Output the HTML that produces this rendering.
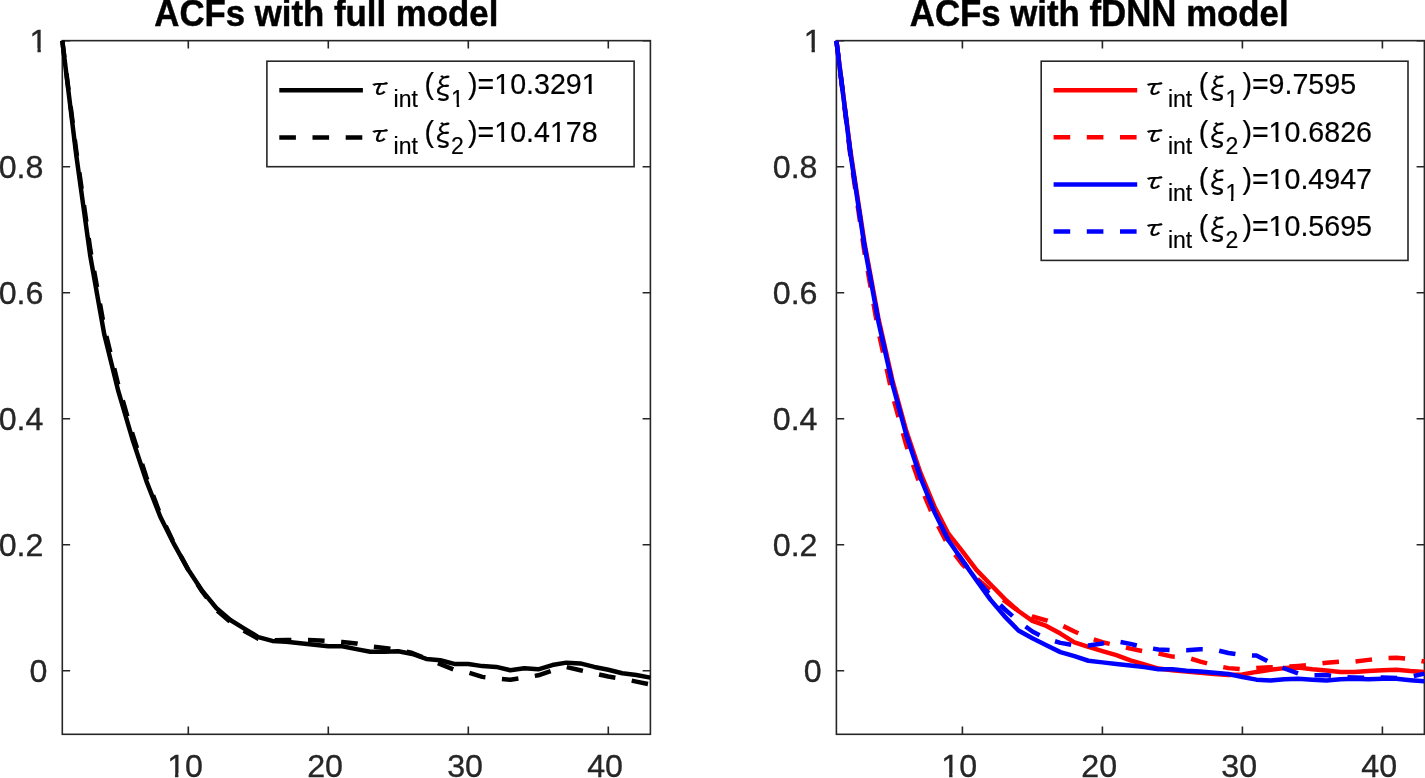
<!DOCTYPE html>
<html lang="en"><head><meta charset="utf-8"><title>ACFs</title>
<style>
html,body{margin:0;padding:0;background:#fff;overflow:hidden}
body{width:1425px;height:778px}
.tau{font-family:"IPAGothic","DejaVu Sans",sans-serif;font-size:26.5px;fill:#000;stroke:#000;stroke-width:0.25px}
.xi{font-family:"IPAGothic","DejaVu Sans",sans-serif;font-size:29.2px;fill:#000;stroke:#000;stroke-width:0.15px}
</style></head><body>
<svg width="1425" height="778" viewBox="0 0 1425 778" style="display:block">
<rect width="1425" height="778" fill="#fff"/>
<clipPath id="cL"><rect x="59.3" y="39.85" width="594.1" height="695.25"/></clipPath>
<rect x="62.3" y="40.65" width="588.1" height="693.65" fill="none" stroke="#262626" stroke-width="1.6"/>
<path d="M188.30,734.3v-7.8M188.30,40.65v7.8M328.30,734.3v-7.8M328.30,40.65v7.8M468.30,734.3v-7.8M468.30,40.65v7.8M608.30,734.3v-7.8M608.30,40.65v7.8M62.3,670.70h7.8M650.4,670.70h-7.8M62.3,544.70h7.8M650.4,544.70h-7.8M62.3,418.70h7.8M650.4,418.70h-7.8M62.3,292.70h7.8M650.4,292.70h-7.8M62.3,166.70h7.8M650.4,166.70h-7.8M62.3,40.70h7.8M650.4,40.70h-7.8" stroke="#262626" stroke-width="1.6" fill="none"/>
<g clip-path="url(#cL)">
<polyline points="62.30,40.70 76.30,155.42 90.30,256.16 104.30,334.53 118.30,391.17 132.30,438.67 146.30,480.82 160.30,516.79 174.30,544.70 188.30,569.84 202.30,590.94 216.30,607.95 230.30,619.99 244.30,628.62 258.30,637.06 272.30,640.90 286.30,641.72 300.30,643.23 314.30,644.81 328.30,646.32 342.30,646.32 356.30,649.09 370.30,651.80 384.30,651.80 398.30,651.30 412.30,654.00 426.30,658.98 440.30,660.28 454.30,663.91 468.30,663.91 482.30,666.12 496.30,666.92 510.30,670.23 524.30,668.18 538.30,669.28 552.30,665.03 566.30,662.65 580.30,663.44 594.30,666.92 608.30,669.75 622.30,673.22 636.30,674.97 650.30,677.63" fill="none" stroke="#000" stroke-width="4.5" stroke-linejoin="round"/>
<polyline points="62.30,40.70 76.30,151.28 90.30,249.47 104.30,327.74 118.30,384.95 132.30,433.51 146.30,476.98 160.30,514.62 174.30,543.94 188.30,569.84 202.30,591.74 216.30,609.81 230.30,621.97 244.30,631.07 258.30,638.70 272.30,640.46 286.30,639.96 300.30,639.77 314.30,640.15 328.30,641.09 342.30,642.04 356.30,643.55 370.30,646.45 384.30,648.02 398.30,649.91 412.30,653.06 426.30,658.73 440.30,664.21 454.30,669.75 468.30,672.44 482.30,676.87 496.30,678.45 510.30,679.71 524.30,677.63 538.30,675.30 552.30,670.54 566.30,667.05 580.30,670.23 594.30,673.41 608.30,676.56 622.30,678.76 636.30,681.60 650.30,684.43" fill="none" stroke="#000" stroke-width="4.5" stroke-linejoin="round" stroke-dasharray="16.6 16.6" stroke-dashoffset="0"/>
</g>
<g font-family="Liberation Sans, Arial, Helvetica, sans-serif" font-size="32.2" fill="#262626" stroke="#262626" stroke-width="0.35">
<text x="185.10" y="777.0" text-anchor="middle">10</text>
<text x="325.10" y="777.0" text-anchor="middle">20</text>
<text x="465.10" y="777.0" text-anchor="middle">30</text>
<text x="605.10" y="777.0" text-anchor="middle">40</text>
<text x="47.50" y="682.10" text-anchor="end">0</text>
<text x="43.40" y="556.10" text-anchor="end">0.2</text>
<text x="43.40" y="430.10" text-anchor="end">0.4</text>
<text x="43.40" y="304.10" text-anchor="end">0.6</text>
<text x="43.40" y="178.10" text-anchor="end">0.8</text>
<text x="47.50" y="52.10" text-anchor="end">1</text>
</g>
<text transform="translate(326.3,26.1) scale(1,1.045)" text-anchor="middle" font-family="Liberation Sans, Arial, Helvetica, sans-serif" font-weight="bold" font-size="34.8" fill="#000" stroke="#000" stroke-width="0.45">ACFs with full model</text>
<clipPath id="cR"><rect x="833.4" y="39.85" width="594.0000000000001" height="695.25"/></clipPath>
<rect x="836.4" y="40.65" width="588.0000000000001" height="693.65" fill="none" stroke="#262626" stroke-width="1.6"/>
<path d="M962.40,734.3v-7.8M962.40,40.65v7.8M1102.40,734.3v-7.8M1102.40,40.65v7.8M1242.40,734.3v-7.8M1242.40,40.65v7.8M1382.40,734.3v-7.8M1382.40,40.65v7.8M836.4,670.70h7.8M1424.4,670.70h-7.8M836.4,544.70h7.8M1424.4,544.70h-7.8M836.4,418.70h7.8M1424.4,418.70h-7.8M836.4,292.70h7.8M1424.4,292.70h-7.8M836.4,166.70h7.8M1424.4,166.70h-7.8M836.4,40.70h7.8M1424.4,40.70h-7.8" stroke="#262626" stroke-width="1.6" fill="none"/>
<g clip-path="url(#cR)">
<polyline points="836.40,40.70 850.40,150.69 864.40,242.33 878.40,318.18 892.40,380.31 906.40,431.25 920.40,472.69 934.40,506.48 948.40,533.74 962.40,551.32 976.40,569.84 990.40,584.20 1004.40,598.63 1018.40,610.98 1032.40,620.80 1046.40,625.97 1060.40,633.59 1074.40,642.41 1088.40,646.95 1102.40,651.04 1116.40,655.20 1130.40,660.31 1144.40,664.40 1158.40,668.56 1172.40,670.20 1186.40,671.58 1200.40,672.78 1214.40,673.98 1228.40,674.98 1242.40,674.48 1256.40,671.90 1270.40,669.82 1284.40,668.12 1298.40,667.61 1312.40,669.31 1326.40,670.51 1340.40,671.90 1354.40,671.90 1368.40,671.02 1382.40,670.20 1396.40,669.82 1410.40,671.02 1424.40,671.90" fill="none" stroke="#f00" stroke-width="4.5" stroke-linejoin="round"/>
<polyline points="836.40,40.70 850.40,155.86 864.40,252.10 878.40,331.44 892.40,394.93 906.40,445.62 920.40,486.03 934.40,519.03 948.40,545.74 962.40,564.32 976.40,578.09 990.40,590.38 1004.40,600.77 1018.40,610.98 1032.40,616.52 1046.40,620.30 1060.40,624.71 1074.40,631.51 1088.40,637.69 1102.40,642.22 1116.40,645.31 1130.40,648.59 1144.40,651.49 1158.40,653.50 1172.40,656.59 1186.40,657.28 1200.40,661.57 1214.40,665.35 1228.40,668.12 1242.40,669.31 1256.40,667.93 1270.40,667.24 1284.40,666.92 1298.40,665.91 1312.40,664.65 1326.40,662.76 1340.40,661.57 1354.40,661.57 1368.40,659.86 1382.40,658.10 1396.40,657.66 1410.40,658.98 1424.40,661.57" fill="none" stroke="#f00" stroke-width="4.5" stroke-linejoin="round" stroke-dasharray="16.6 16.6" stroke-dashoffset="0"/>
<polyline points="836.40,40.70 850.40,153.27 864.40,245.73 878.40,321.67 892.40,384.03 906.40,435.26 920.40,477.33 934.40,511.88 948.40,540.26 962.40,560.58 976.40,580.11 990.40,599.64 1004.40,616.08 1018.40,630.51 1032.40,638.32 1046.40,645.31 1060.40,652.12 1074.40,656.21 1088.40,660.75 1102.40,662.38 1116.40,664.02 1130.40,665.47 1144.40,667.11 1158.40,669.19 1172.40,669.19 1186.40,670.70 1200.40,671.58 1214.40,672.78 1228.40,673.98 1242.40,677.06 1256.40,679.65 1270.40,680.53 1284.40,679.14 1298.40,678.76 1312.40,679.65 1326.40,680.53 1340.40,679.14 1354.40,678.76 1368.40,679.27 1382.40,678.76 1396.40,678.76 1410.40,680.15 1424.40,681.35" fill="none" stroke="#00f" stroke-width="4.5" stroke-linejoin="round"/>
<polyline points="836.40,40.70 850.40,153.27 864.40,245.73 878.40,321.67 892.40,384.03 906.40,435.26 920.40,477.33 934.40,511.88 948.40,540.26 962.40,560.32 976.40,579.48 990.40,595.10 1004.40,608.96 1018.40,621.25 1032.40,631.51 1046.40,638.70 1060.40,642.85 1074.40,645.31 1088.40,645.50 1102.40,643.42 1116.40,641.22 1130.40,643.86 1144.40,647.39 1158.40,649.41 1172.40,650.04 1186.40,650.23 1200.40,649.22 1214.40,649.53 1228.40,653.00 1242.40,655.08 1256.40,655.58 1270.40,662.45 1284.40,668.50 1298.40,673.60 1312.40,675.36 1326.40,674.98 1340.40,677.06 1354.40,677.38 1368.40,677.95 1382.40,677.57 1396.40,677.95 1410.40,676.75 1424.40,673.60" fill="none" stroke="#00f" stroke-width="4.5" stroke-linejoin="round" stroke-dasharray="16.6 16.6" stroke-dashoffset="0"/>
</g>
<g font-family="Liberation Sans, Arial, Helvetica, sans-serif" font-size="32.2" fill="#262626" stroke="#262626" stroke-width="0.35">
<text x="959.20" y="777.0" text-anchor="middle">10</text>
<text x="1099.20" y="777.0" text-anchor="middle">20</text>
<text x="1239.20" y="777.0" text-anchor="middle">30</text>
<text x="1379.20" y="777.0" text-anchor="middle">40</text>
<text x="821.60" y="682.10" text-anchor="end">0</text>
<text x="817.50" y="556.10" text-anchor="end">0.2</text>
<text x="817.50" y="430.10" text-anchor="end">0.4</text>
<text x="817.50" y="304.10" text-anchor="end">0.6</text>
<text x="817.50" y="178.10" text-anchor="end">0.8</text>
<text x="821.60" y="52.10" text-anchor="end">1</text>
</g>
<text transform="translate(1099.2,26.1) scale(1,1.045)" text-anchor="middle" font-family="Liberation Sans, Arial, Helvetica, sans-serif" font-weight="bold" font-size="34.8" fill="#000" stroke="#000" stroke-width="0.45">ACFs with fDNN model</text>
<rect x="266.9" y="61.2" width="367.2" height="105.5" fill="#fff" stroke="#262626" stroke-width="1.6"/>
<line x1="279.30" y1="90.20" x2="362.90" y2="90.20" stroke="#000" stroke-width="4.5"/>
<text transform="translate(365.60,96.03) scale(1.089,0.871)" class="tau">τ</text>
<text transform="translate(429.40,97.90) scale(0.97,1)" class="xi">ξ</text>
<text y="94.40" font-family="Liberation Sans, Arial, Helvetica, sans-serif" font-size="28.6" fill="#000" stroke="#000" stroke-width="0.2"><tspan x="393.60" dy="12.4" font-size="23">int</tspan><tspan x="424.40" dy="-12.4">(</tspan><tspan x="451.10" dy="12.4" font-size="23">1</tspan><tspan x="468.10" dy="-12.4">)=10.3291</tspan></text>
<line x1="279.30" y1="137.50" x2="362.90" y2="137.50" stroke="#000" stroke-width="4.5" stroke-dasharray="16.6 16.6"/>
<text transform="translate(365.60,143.33) scale(1.089,0.871)" class="tau">τ</text>
<text transform="translate(429.40,145.20) scale(0.97,1)" class="xi">ξ</text>
<text y="141.70" font-family="Liberation Sans, Arial, Helvetica, sans-serif" font-size="28.6" fill="#000" stroke="#000" stroke-width="0.2"><tspan x="393.60" dy="12.4" font-size="23">int</tspan><tspan x="424.40" dy="-12.4">(</tspan><tspan x="451.10" dy="12.4" font-size="23">2</tspan><tspan x="468.10" dy="-12.4">)=10.4178</tspan></text>
<rect x="1041.2" y="61.2" width="366.8" height="199.2" fill="#fff" stroke="#262626" stroke-width="1.6"/>
<line x1="1053.60" y1="90.20" x2="1137.20" y2="90.20" stroke="#f00" stroke-width="4.5"/>
<text transform="translate(1139.90,96.03) scale(1.089,0.871)" class="tau">τ</text>
<text transform="translate(1203.70,97.90) scale(0.97,1)" class="xi">ξ</text>
<text y="94.40" font-family="Liberation Sans, Arial, Helvetica, sans-serif" font-size="28.6" fill="#000" stroke="#000" stroke-width="0.2"><tspan x="1167.90" dy="12.4" font-size="23">int</tspan><tspan x="1198.70" dy="-12.4">(</tspan><tspan x="1225.40" dy="12.4" font-size="23">1</tspan><tspan x="1242.40" dy="-12.4">)=9.7595</tspan></text>
<line x1="1053.60" y1="137.30" x2="1137.20" y2="137.30" stroke="#f00" stroke-width="4.5" stroke-dasharray="16.6 16.6"/>
<text transform="translate(1139.90,143.13) scale(1.089,0.871)" class="tau">τ</text>
<text transform="translate(1203.70,145.00) scale(0.97,1)" class="xi">ξ</text>
<text y="141.50" font-family="Liberation Sans, Arial, Helvetica, sans-serif" font-size="28.6" fill="#000" stroke="#000" stroke-width="0.2"><tspan x="1167.90" dy="12.4" font-size="23">int</tspan><tspan x="1198.70" dy="-12.4">(</tspan><tspan x="1225.40" dy="12.4" font-size="23">2</tspan><tspan x="1242.40" dy="-12.4">)=10.6826</tspan></text>
<line x1="1053.60" y1="184.40" x2="1137.20" y2="184.40" stroke="#00f" stroke-width="4.5"/>
<text transform="translate(1139.90,190.23) scale(1.089,0.871)" class="tau">τ</text>
<text transform="translate(1203.70,192.10) scale(0.97,1)" class="xi">ξ</text>
<text y="188.60" font-family="Liberation Sans, Arial, Helvetica, sans-serif" font-size="28.6" fill="#000" stroke="#000" stroke-width="0.2"><tspan x="1167.90" dy="12.4" font-size="23">int</tspan><tspan x="1198.70" dy="-12.4">(</tspan><tspan x="1225.40" dy="12.4" font-size="23">1</tspan><tspan x="1242.40" dy="-12.4">)=10.4947</tspan></text>
<line x1="1053.60" y1="231.50" x2="1137.20" y2="231.50" stroke="#00f" stroke-width="4.5" stroke-dasharray="16.6 16.6"/>
<text transform="translate(1139.90,237.33) scale(1.089,0.871)" class="tau">τ</text>
<text transform="translate(1203.70,239.20) scale(0.97,1)" class="xi">ξ</text>
<text y="235.70" font-family="Liberation Sans, Arial, Helvetica, sans-serif" font-size="28.6" fill="#000" stroke="#000" stroke-width="0.2"><tspan x="1167.90" dy="12.4" font-size="23">int</tspan><tspan x="1198.70" dy="-12.4">(</tspan><tspan x="1225.40" dy="12.4" font-size="23">2</tspan><tspan x="1242.40" dy="-12.4">)=10.5695</tspan></text>
<g fill="#fff" stroke="none"><rect x="168.16" y="773.09" width="6.88" height="4.91"/><rect x="178.39" y="773.09" width="6.84" height="4.91"/><rect x="30.56" y="48.19" width="6.88" height="4.91"/><rect x="40.79" y="48.19" width="6.84" height="4.91"/><rect x="942.26" y="773.09" width="6.88" height="4.91"/><rect x="952.49" y="773.09" width="6.84" height="4.91"/><rect x="804.66" y="48.19" width="6.88" height="4.91"/><rect x="814.89" y="48.19" width="6.84" height="4.91"/><rect x="451.79" y="103.58" width="4.84" height="4.22"/><rect x="459.17" y="103.58" width="4.81" height="4.22"/><rect x="495.18" y="90.76" width="6.08" height="4.64"/><rect x="504.29" y="90.76" width="6.05" height="4.64"/><rect x="582.63" y="90.76" width="6.08" height="4.64"/><rect x="591.74" y="90.76" width="6.05" height="4.64"/><rect x="495.18" y="138.06" width="6.08" height="4.64"/><rect x="504.29" y="138.06" width="6.05" height="4.64"/><rect x="550.82" y="138.06" width="6.08" height="4.64"/><rect x="559.93" y="138.06" width="6.05" height="4.64"/><rect x="1226.09" y="103.58" width="4.84" height="4.22"/><rect x="1233.47" y="103.58" width="4.81" height="4.22"/><rect x="1269.48" y="137.86" width="6.08" height="4.64"/><rect x="1278.59" y="137.86" width="6.05" height="4.64"/><rect x="1226.09" y="197.78" width="4.84" height="4.22"/><rect x="1233.47" y="197.78" width="4.81" height="4.22"/><rect x="1269.48" y="184.96" width="6.08" height="4.64"/><rect x="1278.59" y="184.96" width="6.05" height="4.64"/><rect x="1269.48" y="232.06" width="6.08" height="4.64"/><rect x="1278.59" y="232.06" width="6.05" height="4.64"/></g>
</svg>
</body></html>
